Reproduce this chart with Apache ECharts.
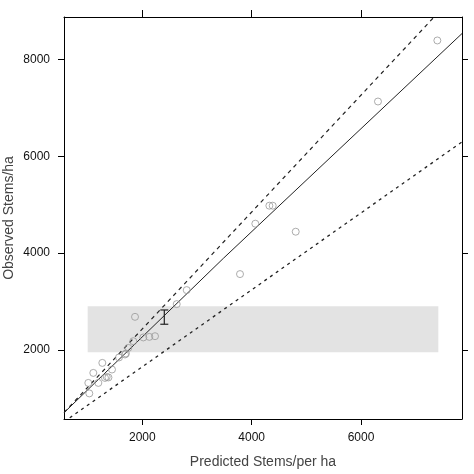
<!DOCTYPE html>
<html>
<head>
<meta charset="utf-8">
<script src="https://cdn.jsdelivr.net/npm/echarts@6/dist/echarts.min.js"></script>
<style>html,body{margin:0;padding:0;background:#fff}#c{width:474px;height:474px}</style>
</head>
<body>
<div id="c"></div>
<script>
// Axis ranges and ticks
var xRange = [567, 7848];
var yRange = [571, 8882];
var xTicks = [2000, 4000, 6000];
var yTicks = [2000, 4000, 6000, 8000];

// Observed vs predicted points
var predX = [7397, 6311, 4385, 4324, 4067, 4806, 3787, 2812, 2629, 1866, 2232, 2128, 2018, 1835, 1744, 1683, 1700, 1573,
             1268, 1445, 1103, 1348, 1317, 1380, 1012, 1195, 1030];
var obsY  = [8397, 7135, 4981, 4981, 4609, 4443, 3567, 3236, 2946, 2683, 2283, 2269, 2257, 2180, 2041, 1905, 1925, 1843,
             1731, 1594, 1524, 1441, 1420, 1430, 1317, 1317, 1100];

// Fitted line (solid) and bounds (dashed)
var fitX = [567, 3482, 7848];
var fitY = [700, 3892, 8540];
var upperX = [567, 3207, 7400];
var upperY = [703, 3892, 8957];
var lowerX = [567, 4793, 7848];
var lowerY = [512, 3872, 6300];

// Shaded band
var bandX = [1000, 7415];
var bandY = [1950, 2900];

// Error bar
var errX = [2402];
var errLow = [2530];
var errHigh = [2825];

function pairs(xs, ys){ return xs.map(function(x,i){ return [x, ys[i]]; }); }
function plain(v){ return String(Math.round(v)); }

var font = 'Liberation Sans, Arial, sans-serif';
var chart = echarts.init(document.getElementById('c'), null, {renderer:'canvas'});

var baseAxis = {
  type: 'value',
  splitLine: {show: false},
  axisLine: {show: true, onZero: false, lineStyle: {color: '#000', width: 1}},
};

chart.setOption({
  animation: false,
  backgroundColor: '#fff',
  grid: {left: 64, right: 12, top: 17, bottom: 55, containLabel: false, outerBoundsMode: 'none'},
  xAxis: [
    Object.assign({}, baseAxis, {
      position: 'bottom', min: xRange[0], max: xRange[1],
      name: 'Predicted Stems/per ha', nameLocation: 'middle', nameGap: 36, nameMoveOverlap: false,
      nameTextStyle: {fontFamily: font, fontSize: 14, color: '#444'},
      axisTick: {show: true, length: 6, customValues: xTicks, lineStyle: {color: '#000'}},
      axisLabel: {show: true, customValues: xTicks, formatter: plain, margin: 13, fontFamily: font, fontSize: 12, color: '#111'}
    }),
    Object.assign({}, baseAxis, {
      position: 'top', min: xRange[0], max: xRange[1],
      axisTick: {show: true, length: 7, customValues: xTicks, lineStyle: {color: '#000'}},
      axisLabel: {show: false, customValues: xTicks}
    })
  ],
  yAxis: [
    Object.assign({}, baseAxis, {
      position: 'left', min: yRange[0], max: yRange[1],
      name: 'Observed Stems/ha', nameLocation: 'middle', nameGap: 48, nameMoveOverlap: false,
      nameTextStyle: {fontFamily: font, fontSize: 14, color: '#444'},
      axisTick: {show: true, length: 6, customValues: yTicks, lineStyle: {color: '#000'}},
      axisLabel: {show: true, customValues: yTicks, formatter: plain, margin: 14, fontFamily: font, fontSize: 12, color: '#111'}
    }),
    Object.assign({}, baseAxis, {
      position: 'right', min: yRange[0], max: yRange[1],
      axisTick: {show: true, length: 6, customValues: yTicks, lineStyle: {color: '#000'}},
      axisLabel: {show: false, customValues: yTicks}
    })
  ],
  series: [
    {
      type: 'line', data: [], z: 0, silent: true,
      markArea: {
        silent: true,
        itemStyle: {color: '#e3e3e3'},
        data: [[{coord: [bandX[0], bandY[0]]}, {coord: [bandX[1], bandY[1]]}]]
      }
    },
    {
      type: 'line', data: pairs(fitX, fitY), symbol: 'none', clip: true, z: 3,
      lineStyle: {color: '#222', width: 1, type: 'solid'}
    },
    {
      type: 'line', data: pairs(upperX, upperY), symbol: 'none', clip: true, z: 3,
      lineStyle: {color: '#222', width: 1.2, type: [4, 4]}
    },
    {
      type: 'line', data: pairs(lowerX, lowerY), symbol: 'none', clip: true, z: 3,
      lineStyle: {color: '#222', width: 1.3, type: [3, 4]}
    },
    {
      type: 'scatter', data: pairs(predX, obsY), symbol: 'circle', symbolSize: 7, z: 4,
      itemStyle: {color: 'rgba(255,255,255,0)', borderColor: '#999', borderWidth: 1}
    },
    {
      type: 'custom', z: 5,
      data: errX.map(function(x,i){ return [x, errLow[i], errHigh[i]]; }),
      renderItem: function(params, api){
        var lo = api.coord([api.value(0), api.value(1)]);
        var hi = api.coord([api.value(0), api.value(2)]);
        var w = 4;
        var st = {stroke: '#222', lineWidth: 1.2};
        return {type: 'group', children: [
          {type: 'line', shape: {x1: lo[0], y1: lo[1], x2: hi[0], y2: hi[1]}, style: st},
          {type: 'line', shape: {x1: lo[0]-w, y1: lo[1], x2: lo[0]+w, y2: lo[1]}, style: st},
          {type: 'line', shape: {x1: hi[0]-w, y1: hi[1], x2: hi[0]+w, y2: hi[1]}, style: st}
        ]};
      }
    }
  ]
});
</script>
</body>
</html>
